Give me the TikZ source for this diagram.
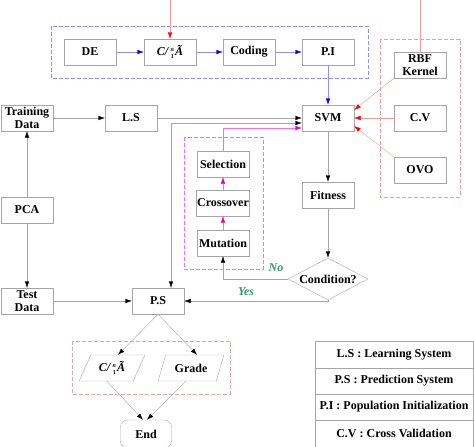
\documentclass[tikz,border=0pt]{standalone}
\usepackage{fontspec}
\setmainfont{Liberation Serif}
\usepackage{xcolor}
\usepackage{tikz}
\usetikzlibrary{positioning, arrows.meta, shapes.geometric}
\definecolor{sGray}{HTML}{A6A6A6}
\definecolor{sBlue}{HTML}{8F8FFF}
\definecolor{sRed}{HTML}{F59A9A}
\definecolor{sMag}{HTML}{FF66FF}
\definecolor{sPinkBox}{HTML}{E3A8A8}
\definecolor{sGreen}{HTML}{2E9A6A}
\newcommand{\cvalue}{\textit{C/}\kern1.5pt\raisebox{-3pt}{\fontsize{6}{7.5}\selectfont\shortstack{\textit{n}\\1}}\kern1pt\textit{Ã}}

\begin{document}
\begin{tikzpicture}[x=1pt, y=-1pt, font=\bfseries\fontsize{12}{12.5}\selectfont,
    blk/.style={draw=sGray, minimum width=52pt, minimum height=26pt, inner sep=0.5pt, align=center},
    para/.style={draw=sGray, trapezium, trapezium left angle=62, trapezium right angle=118,
      trapezium stretches=true, minimum width=66pt, minimum height=26pt, inner sep=0.5pt},
    link/.style={draw=sGray, -{Latex[length=6.5pt,width=4.5pt,color=black]}},
    bluelink/.style={draw=sBlue, -{Latex[length=6.5pt,width=4.5pt,color=blue]}},
    redlink/.style={draw=sRed, -{Latex[length=6.5pt,width=4.5pt,color=red]}},
    maglink/.style={draw=sMag, -{Latex[length=6.5pt,width=4.5pt,color=magenta]}},
    grp/.style={dashed, dash pattern=on 4pt off 2pt},
    lbl/.style={text=sGreen, font=\bfseries\itshape\fontsize{12}{13}\selectfont}]
  \useasboundingbox (0,0) rectangle (474,447);

  % group frames
  \draw[grp, sBlue] (51,26) rectangle (368,78);
  \draw[grp, sRed] (380,39) rectangle (460,197);
  \draw[grp, sMag] (184,137) rectangle (263,269);
  \draw[grp, sPinkBox] (72,341) rectangle (230,394);

  % top row
  \node[blk] (de) at (90,52) {DE};
  \node[blk] (ca) at (170,52) {\cvalue};
  \node[blk] (cod) at (249,52) {Coding};
  \node[blk] (pi) at (328,52) {P.I};

  % svm parameters
  \node[blk] (rbf) at (420,65) {RBF\\Kernel};
  \node[blk] (cv) at (420,118) {C.V};
  \node[blk] (ovo) at (420,170) {OVO};

  % main column
  \node[blk] (svm) at (328,118) {SVM};
  \node[blk] (fit) at (328,195) {Fitness};
  \node[draw=sGray, diamond, inner sep=0pt, minimum width=80pt, minimum height=42pt] (cond) at (328,279)
    {\makebox[0pt]{Condition?}};

  % data
  \node[blk] (train) at (27,118) {Training\\Data};
  \node[blk] (ls) at (131,118) {L.S};
  \node[blk] (pca) at (27,210) {PCA};
  \node[blk] (test) at (27,301) {Test\\Data};
  \node[blk] (ps) at (158,301) {P.S};

  % genetic operators
  \node[blk] (sel) at (223,164) {Selection};
  \node[blk] (cro) at (223,203) {Crossover};
  \node[blk] (mut) at (223,243) {Mutation};

  % outputs
  \node[para] (out1) at (112,368) {\cvalue};
  \node[para] (out2) at (191,368) {Grade};
  \node[draw=sGray, rounded corners=7pt, minimum width=51pt, minimum height=28pt] (end) at (146,434) {End};

  % legend
  \foreach \yy in {341,368,394,420}
    \draw[sGray] (315,\yy) -- (473,\yy);
  \draw[sGray] (315,341) -- (315,447);
  \draw[sGray] (473,341) -- (473,447);
  \foreach \txt [count=\i] in {L.S : Learning System, P.S : Prediction System,
      P.I : Population Initialization, C.V : Cross Validation}
    \node (leg\i) at (394,328+26.3*\i) {\txt};

  % connectors
  \coordinate (topA) at (170,0);
  \coordinate (topB) at (420,0);
  \draw[redlink] (topA) -- (ca);
  \draw[sRed] (topB) -- (rbf);
  \draw[redlink] (rbf.south west) -- ([yshift=8pt]svm.east);
  \draw[redlink] (cv) -- (svm);
  \draw[redlink] (ovo.north west) -- ([yshift=-8pt]svm.east);

  \draw[bluelink] (de) -- (ca);
  \draw[bluelink] (ca) -- (cod);
  \draw[bluelink] (cod) -- (pi);
  \draw[bluelink] (pi) -- (svm);

  \draw[link] (train) -- (ls);
  \draw[link] (ls) -- (svm);
  \draw[link] (pca) -- (train);
  \draw[link] (pca) -- (test);
  \draw[link] (test) -- (ps);
  \draw[link] (svm) -- (fit);
  \draw[link] (fit) -- (cond);
  \draw[draw=sGray, {Latex[length=6.5pt,width=4.5pt,color=black]}-{Latex[length=6.5pt,width=4.5pt,color=black]}]
    ([xshift=13pt]ps.north) |- ([yshift=-5pt]svm.west);

  \draw[maglink] (mut) -- (cro);
  \draw[maglink] (cro) -- (sel);
  \draw[maglink] (sel.north) |- ([yshift=-10pt]svm.west);

  \draw[link] (cond.west) -| (mut.south);
  \node[lbl] (no) at (276,268) {No};
  \draw[link] (cond.south) |- (ps.east);
  \node[lbl] (yes) at (246,292) {Yes};

  \draw[link] (ps.south) -- ([xshift=6pt]out1.north);
  \draw[link] (ps.south) -- ([xshift=6pt]out2.north);
  \draw[link] ([xshift=-5pt]out1.south) -- ([xshift=-3pt]end.north);
  \draw[link] ([xshift=-5pt]out2.south) -- ([xshift=1pt]end.north);
\end{tikzpicture}
\end{document}
